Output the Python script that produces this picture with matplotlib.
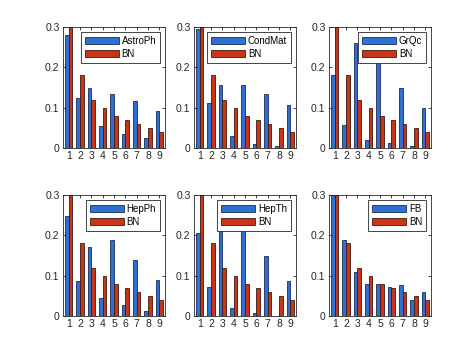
import matplotlib
matplotlib.use('Agg')
import matplotlib.pyplot as plt
import numpy as np

plt.rcParams['font.family'] = ['Liberation Sans', 'DejaVu Sans']

digits = np.arange(1, 10)
bn = [0.301, 0.18, 0.12, 0.10, 0.08, 0.07, 0.06, 0.05, 0.04]

names = ["AstroPh", "CondMat", "GrQc", "HepPh", "HepTh", "FB"]
astroph = [0.279, 0.125, 0.149, 0.055, 0.134, 0.035, 0.116, 0.026, 0.092]
condmat = [0.295, 0.112, 0.157, 0.030, 0.157, 0.011, 0.134, 0.005, 0.106]
grqc = [0.180, 0.058, 0.260, 0.021, 0.235, 0.013, 0.150, 0.005, 0.100]
hepph = [0.248, 0.088, 0.170, 0.044, 0.188, 0.027, 0.138, 0.012, 0.089]
hepth = [0.207, 0.071, 0.249, 0.019, 0.212, 0.007, 0.150, 0.001, 0.087]
fb = [0.301, 0.188, 0.109, 0.079, 0.079, 0.071, 0.078, 0.040, 0.059]
series = [astroph, condmat, grqc, hepph, hepth, fb]

BLUE = '#2f70d4'
RED = '#cc3418'
W, H = 474, 345

# axes boxes in pixels: left, top, width, height
lefts = [63, 194, 329]
tops = [27, 195]
aw, ah = 102, 121

fig = plt.figure(figsize=(W / 100, H / 100), dpi=100)

for i, (name, vals) in enumerate(zip(names, series)):
    r, c = divmod(i, 3)
    ax = fig.add_axes([lefts[c] / W, 1 - (tops[r] + ah) / H, aw / W, ah / H])
    bw = 0.32
    ax.bar(digits - bw / 2, vals, bw, color=BLUE, edgecolor='#1c2c50',
           lw=0.6, label=name)
    ax.bar(digits + bw / 2, bn, bw, color=RED, edgecolor='#3c1a12',
           lw=0.6, label='BN')
    ax.set_xlim(0.5, 9.5)
    ax.set_ylim(0, 0.3)
    ax.set_xticks(digits)
    ax.set_yticks([0, 0.1, 0.2, 0.3])
    ax.set_yticklabels(['0', '0.1', '0.2', '0.3'])
    ax.tick_params(direction='in', length=2.5, width=0.6, labelsize=7.5,
                   top=True, right=True, pad=2.5, colors='#262626')
    for sp in ax.spines.values():
        sp.set_linewidth(0.6)
        sp.set_color('#262626')
    leg = ax.legend(loc='upper right', fontsize=7, handlelength=3.5,
                    handleheight=0.8, handletextpad=0.3, borderpad=0.4,
                    labelspacing=0.35, borderaxespad=0.5, fancybox=False,
                    framealpha=1, edgecolor='#262626')
    leg.get_frame().set_linewidth(0.6)
    leg.set_zorder(5)

fig.savefig('out.png', dpi=100)
